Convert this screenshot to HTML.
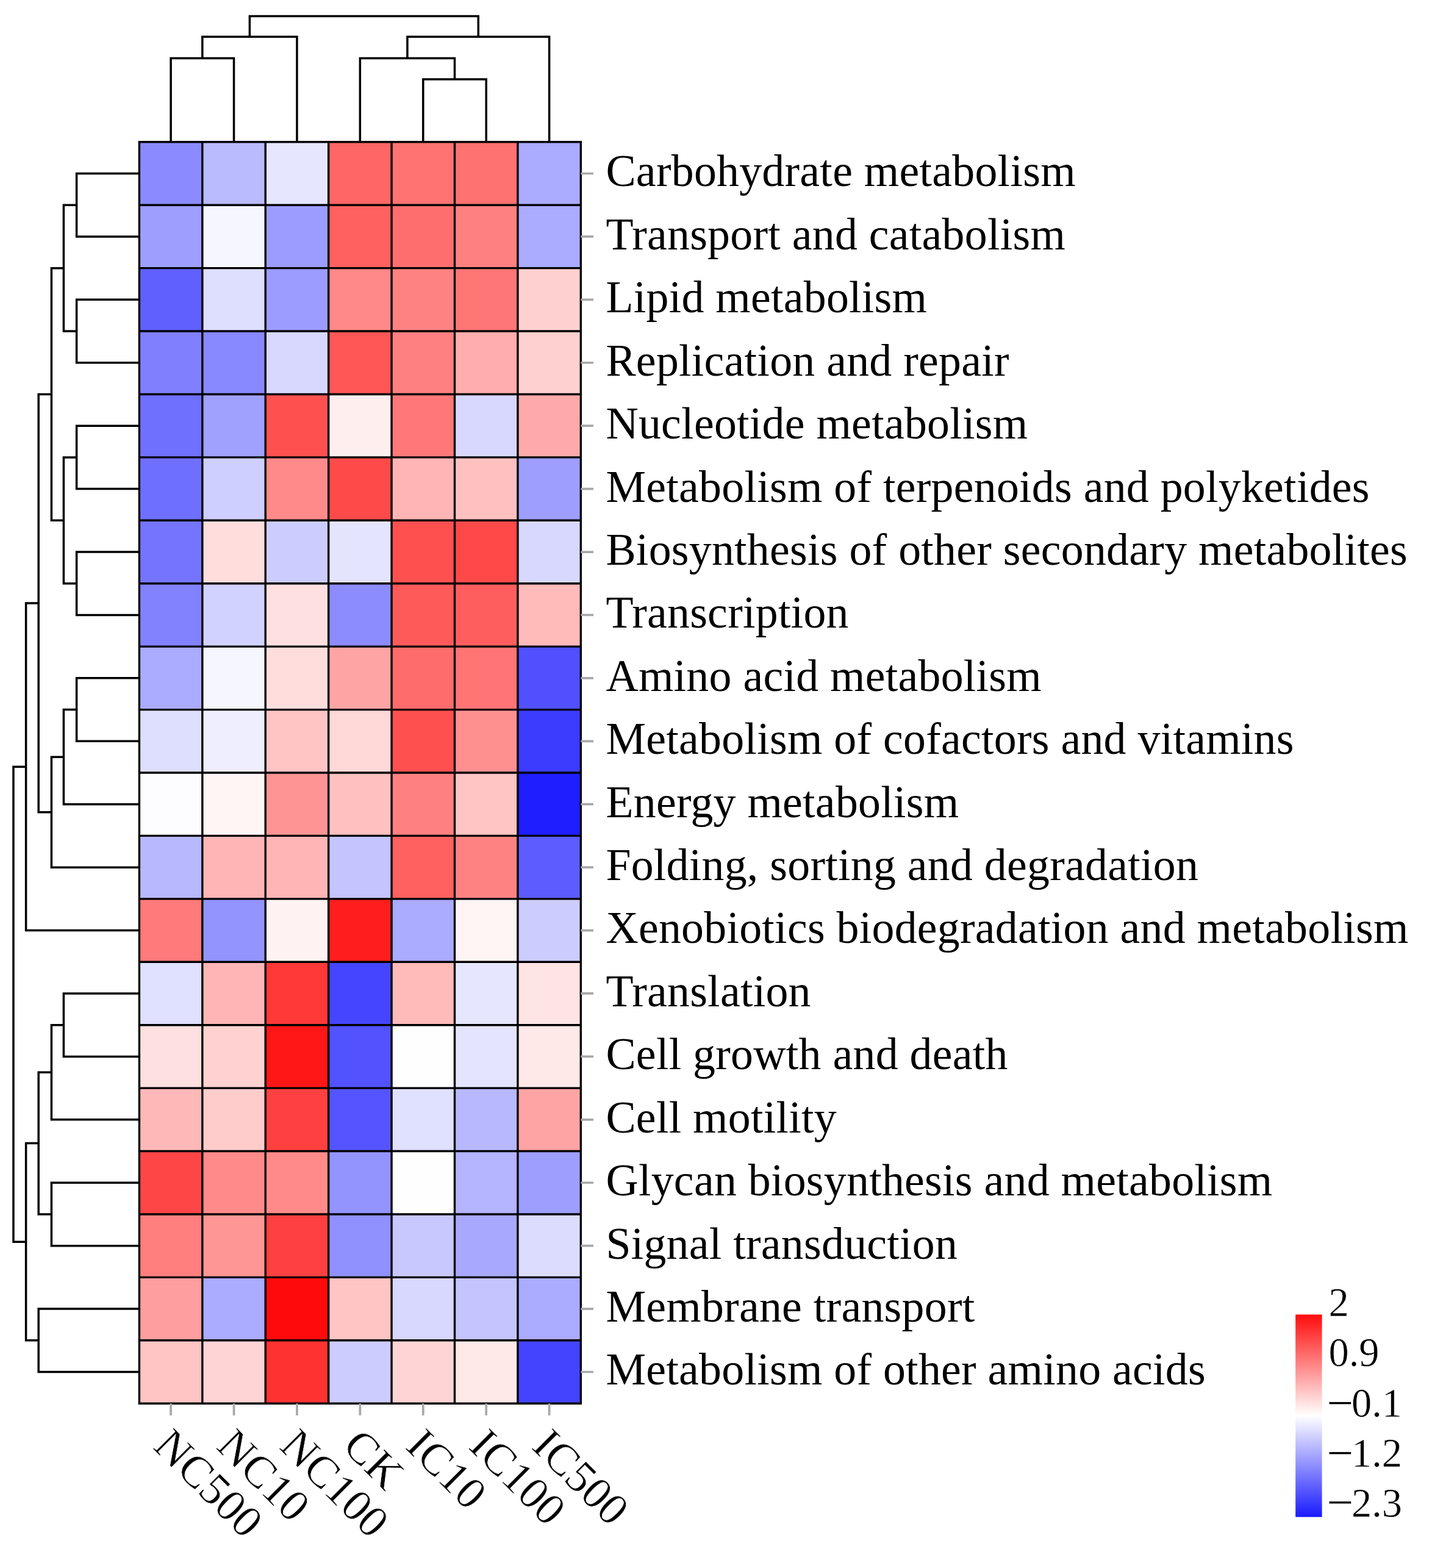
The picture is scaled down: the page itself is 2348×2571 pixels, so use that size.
<!DOCTYPE html>
<html lang="en">
<head>
<meta charset="utf-8">
<title>Clustered heatmap of KEGG pathway abundance</title>
<style>
html,body{margin:0;padding:0;background:#fff;}
body{width:2348px;height:2571px;overflow:hidden;}
svg{display:block;}
.lbl{font-family:"Liberation Serif","DejaVu Serif",serif;font-size:73.8px;letter-spacing:0.26px;fill:#000;}
.leg{font-family:"Liberation Serif","DejaVu Serif",serif;font-size:66.5px;fill:#000;}
.dn{stroke:#000;stroke-width:3.5;fill:none;stroke-linecap:butt;stroke-linejoin:miter;}
.gr{stroke:#000;stroke-width:3.4;fill:none;}
.tk{stroke:#a8a8a8;stroke-width:3.7;fill:none;}
</style>
</head>
<body>
<svg width="2348" height="2571" viewBox="0 0 2348 2571">
<defs><linearGradient id="cb" x1="0" y1="0" x2="0" y2="1"><stop offset="0" stop-color="#ff0c0c"/><stop offset="0.5" stop-color="#ffffff"/><stop offset="1" stop-color="#1a1aff"/></linearGradient></defs>
<rect x="0" y="0" width="2348" height="2571" fill="#ffffff"/>
<g id="cells" shape-rendering="crispEdges">
<rect x="228.4" y="232.8" width="103.42" height="103.42" fill="rgb(139,139,255)"/>
<rect x="331.82" y="232.8" width="103.42" height="103.42" fill="rgb(186,186,255)"/>
<rect x="435.24" y="232.8" width="103.42" height="103.42" fill="rgb(230,230,255)"/>
<rect x="538.66" y="232.8" width="103.42" height="103.42" fill="rgb(255,102,102)"/>
<rect x="642.08" y="232.8" width="103.42" height="103.42" fill="rgb(255,115,115)"/>
<rect x="745.5" y="232.8" width="103.42" height="103.42" fill="rgb(255,114,114)"/>
<rect x="848.92" y="232.8" width="103.42" height="103.42" fill="rgb(171,171,255)"/>
<rect x="228.4" y="336.22" width="103.42" height="103.42" fill="rgb(158,158,255)"/>
<rect x="331.82" y="336.22" width="103.42" height="103.42" fill="rgb(246,246,255)"/>
<rect x="435.24" y="336.22" width="103.42" height="103.42" fill="rgb(156,156,255)"/>
<rect x="538.66" y="336.22" width="103.42" height="103.42" fill="rgb(255,96,96)"/>
<rect x="642.08" y="336.22" width="103.42" height="103.42" fill="rgb(255,110,110)"/>
<rect x="745.5" y="336.22" width="103.42" height="103.42" fill="rgb(255,128,128)"/>
<rect x="848.92" y="336.22" width="103.42" height="103.42" fill="rgb(171,171,255)"/>
<rect x="228.4" y="439.64" width="103.42" height="103.42" fill="rgb(96,96,255)"/>
<rect x="331.82" y="439.64" width="103.42" height="103.42" fill="rgb(222,222,255)"/>
<rect x="435.24" y="439.64" width="103.42" height="103.42" fill="rgb(156,156,255)"/>
<rect x="538.66" y="439.64" width="103.42" height="103.42" fill="rgb(255,136,136)"/>
<rect x="642.08" y="439.64" width="103.42" height="103.42" fill="rgb(255,130,130)"/>
<rect x="745.5" y="439.64" width="103.42" height="103.42" fill="rgb(255,118,118)"/>
<rect x="848.92" y="439.64" width="103.42" height="103.42" fill="rgb(255,208,208)"/>
<rect x="228.4" y="543.06" width="103.42" height="103.42" fill="rgb(128,128,255)"/>
<rect x="331.82" y="543.06" width="103.42" height="103.42" fill="rgb(136,136,255)"/>
<rect x="435.24" y="543.06" width="103.42" height="103.42" fill="rgb(216,216,255)"/>
<rect x="538.66" y="543.06" width="103.42" height="103.42" fill="rgb(255,86,86)"/>
<rect x="642.08" y="543.06" width="103.42" height="103.42" fill="rgb(255,128,128)"/>
<rect x="745.5" y="543.06" width="103.42" height="103.42" fill="rgb(255,173,173)"/>
<rect x="848.92" y="543.06" width="103.42" height="103.42" fill="rgb(255,208,208)"/>
<rect x="228.4" y="646.48" width="103.42" height="103.42" fill="rgb(112,112,255)"/>
<rect x="331.82" y="646.48" width="103.42" height="103.42" fill="rgb(160,160,255)"/>
<rect x="435.24" y="646.48" width="103.42" height="103.42" fill="rgb(255,80,80)"/>
<rect x="538.66" y="646.48" width="103.42" height="103.42" fill="rgb(255,238,238)"/>
<rect x="642.08" y="646.48" width="103.42" height="103.42" fill="rgb(255,120,120)"/>
<rect x="745.5" y="646.48" width="103.42" height="103.42" fill="rgb(216,216,255)"/>
<rect x="848.92" y="646.48" width="103.42" height="103.42" fill="rgb(255,170,170)"/>
<rect x="228.4" y="749.9" width="103.42" height="103.42" fill="rgb(111,111,255)"/>
<rect x="331.82" y="749.9" width="103.42" height="103.42" fill="rgb(207,207,255)"/>
<rect x="435.24" y="749.9" width="103.42" height="103.42" fill="rgb(255,138,138)"/>
<rect x="538.66" y="749.9" width="103.42" height="103.42" fill="rgb(255,74,74)"/>
<rect x="642.08" y="749.9" width="103.42" height="103.42" fill="rgb(255,181,181)"/>
<rect x="745.5" y="749.9" width="103.42" height="103.42" fill="rgb(255,192,192)"/>
<rect x="848.92" y="749.9" width="103.42" height="103.42" fill="rgb(158,158,255)"/>
<rect x="228.4" y="853.32" width="103.42" height="103.42" fill="rgb(116,116,255)"/>
<rect x="331.82" y="853.32" width="103.42" height="103.42" fill="rgb(255,221,221)"/>
<rect x="435.24" y="853.32" width="103.42" height="103.42" fill="rgb(204,204,255)"/>
<rect x="538.66" y="853.32" width="103.42" height="103.42" fill="rgb(228,228,255)"/>
<rect x="642.08" y="853.32" width="103.42" height="103.42" fill="rgb(255,80,80)"/>
<rect x="745.5" y="853.32" width="103.42" height="103.42" fill="rgb(255,72,72)"/>
<rect x="848.92" y="853.32" width="103.42" height="103.42" fill="rgb(216,216,255)"/>
<rect x="228.4" y="956.74" width="103.42" height="103.42" fill="rgb(130,130,255)"/>
<rect x="331.82" y="956.74" width="103.42" height="103.42" fill="rgb(210,210,255)"/>
<rect x="435.24" y="956.74" width="103.42" height="103.42" fill="rgb(255,224,224)"/>
<rect x="538.66" y="956.74" width="103.42" height="103.42" fill="rgb(140,140,255)"/>
<rect x="642.08" y="956.74" width="103.42" height="103.42" fill="rgb(255,90,90)"/>
<rect x="745.5" y="956.74" width="103.42" height="103.42" fill="rgb(255,94,94)"/>
<rect x="848.92" y="956.74" width="103.42" height="103.42" fill="rgb(255,186,186)"/>
<rect x="228.4" y="1060.16" width="103.42" height="103.42" fill="rgb(171,171,255)"/>
<rect x="331.82" y="1060.16" width="103.42" height="103.42" fill="rgb(246,246,255)"/>
<rect x="435.24" y="1060.16" width="103.42" height="103.42" fill="rgb(255,221,221)"/>
<rect x="538.66" y="1060.16" width="103.42" height="103.42" fill="rgb(255,164,164)"/>
<rect x="642.08" y="1060.16" width="103.42" height="103.42" fill="rgb(255,108,108)"/>
<rect x="745.5" y="1060.16" width="103.42" height="103.42" fill="rgb(255,116,116)"/>
<rect x="848.92" y="1060.16" width="103.42" height="103.42" fill="rgb(80,80,255)"/>
<rect x="228.4" y="1163.58" width="103.42" height="103.42" fill="rgb(222,222,255)"/>
<rect x="331.82" y="1163.58" width="103.42" height="103.42" fill="rgb(238,238,255)"/>
<rect x="435.24" y="1163.58" width="103.42" height="103.42" fill="rgb(255,196,196)"/>
<rect x="538.66" y="1163.58" width="103.42" height="103.42" fill="rgb(255,216,216)"/>
<rect x="642.08" y="1163.58" width="103.42" height="103.42" fill="rgb(255,80,80)"/>
<rect x="745.5" y="1163.58" width="103.42" height="103.42" fill="rgb(255,144,144)"/>
<rect x="848.92" y="1163.58" width="103.42" height="103.42" fill="rgb(60,60,255)"/>
<rect x="228.4" y="1267" width="103.42" height="103.42" fill="rgb(253,253,255)"/>
<rect x="331.82" y="1267" width="103.42" height="103.42" fill="rgb(255,245,245)"/>
<rect x="435.24" y="1267" width="103.42" height="103.42" fill="rgb(255,148,148)"/>
<rect x="538.66" y="1267" width="103.42" height="103.42" fill="rgb(255,192,192)"/>
<rect x="642.08" y="1267" width="103.42" height="103.42" fill="rgb(255,128,128)"/>
<rect x="745.5" y="1267" width="103.42" height="103.42" fill="rgb(255,196,196)"/>
<rect x="848.92" y="1267" width="103.42" height="103.42" fill="rgb(30,30,255)"/>
<rect x="228.4" y="1370.42" width="103.42" height="103.42" fill="rgb(184,184,255)"/>
<rect x="331.82" y="1370.42" width="103.42" height="103.42" fill="rgb(255,181,181)"/>
<rect x="435.24" y="1370.42" width="103.42" height="103.42" fill="rgb(255,181,181)"/>
<rect x="538.66" y="1370.42" width="103.42" height="103.42" fill="rgb(196,196,255)"/>
<rect x="642.08" y="1370.42" width="103.42" height="103.42" fill="rgb(255,96,96)"/>
<rect x="745.5" y="1370.42" width="103.42" height="103.42" fill="rgb(255,130,130)"/>
<rect x="848.92" y="1370.42" width="103.42" height="103.42" fill="rgb(92,92,255)"/>
<rect x="228.4" y="1473.84" width="103.42" height="103.42" fill="rgb(255,122,122)"/>
<rect x="331.82" y="1473.84" width="103.42" height="103.42" fill="rgb(148,148,255)"/>
<rect x="435.24" y="1473.84" width="103.42" height="103.42" fill="rgb(255,242,242)"/>
<rect x="538.66" y="1473.84" width="103.42" height="103.42" fill="rgb(255,30,30)"/>
<rect x="642.08" y="1473.84" width="103.42" height="103.42" fill="rgb(171,171,255)"/>
<rect x="745.5" y="1473.84" width="103.42" height="103.42" fill="rgb(255,245,245)"/>
<rect x="848.92" y="1473.84" width="103.42" height="103.42" fill="rgb(204,204,255)"/>
<rect x="228.4" y="1577.26" width="103.42" height="103.42" fill="rgb(224,224,255)"/>
<rect x="331.82" y="1577.26" width="103.42" height="103.42" fill="rgb(255,181,181)"/>
<rect x="435.24" y="1577.26" width="103.42" height="103.42" fill="rgb(255,56,56)"/>
<rect x="538.66" y="1577.26" width="103.42" height="103.42" fill="rgb(69,69,255)"/>
<rect x="642.08" y="1577.26" width="103.42" height="103.42" fill="rgb(255,186,186)"/>
<rect x="745.5" y="1577.26" width="103.42" height="103.42" fill="rgb(230,230,255)"/>
<rect x="848.92" y="1577.26" width="103.42" height="103.42" fill="rgb(255,228,228)"/>
<rect x="228.4" y="1680.68" width="103.42" height="103.42" fill="rgb(255,224,224)"/>
<rect x="331.82" y="1680.68" width="103.42" height="103.42" fill="rgb(255,210,210)"/>
<rect x="435.24" y="1680.68" width="103.42" height="103.42" fill="rgb(255,22,22)"/>
<rect x="538.66" y="1680.68" width="103.42" height="103.42" fill="rgb(82,82,255)"/>
<rect x="642.08" y="1680.68" width="103.42" height="103.42" fill="rgb(255,254,254)"/>
<rect x="745.5" y="1680.68" width="103.42" height="103.42" fill="rgb(228,228,255)"/>
<rect x="848.92" y="1680.68" width="103.42" height="103.42" fill="rgb(255,232,232)"/>
<rect x="228.4" y="1784.1" width="103.42" height="103.42" fill="rgb(255,184,184)"/>
<rect x="331.82" y="1784.1" width="103.42" height="103.42" fill="rgb(255,204,204)"/>
<rect x="435.24" y="1784.1" width="103.42" height="103.42" fill="rgb(255,64,64)"/>
<rect x="538.66" y="1784.1" width="103.42" height="103.42" fill="rgb(85,85,255)"/>
<rect x="642.08" y="1784.1" width="103.42" height="103.42" fill="rgb(224,224,255)"/>
<rect x="745.5" y="1784.1" width="103.42" height="103.42" fill="rgb(184,184,255)"/>
<rect x="848.92" y="1784.1" width="103.42" height="103.42" fill="rgb(255,164,164)"/>
<rect x="228.4" y="1887.52" width="103.42" height="103.42" fill="rgb(255,70,70)"/>
<rect x="331.82" y="1887.52" width="103.42" height="103.42" fill="rgb(255,138,138)"/>
<rect x="435.24" y="1887.52" width="103.42" height="103.42" fill="rgb(255,138,138)"/>
<rect x="538.66" y="1887.52" width="103.42" height="103.42" fill="rgb(148,148,255)"/>
<rect x="642.08" y="1887.52" width="103.42" height="103.42" fill="rgb(255,254,254)"/>
<rect x="745.5" y="1887.52" width="103.42" height="103.42" fill="rgb(180,180,255)"/>
<rect x="848.92" y="1887.52" width="103.42" height="103.42" fill="rgb(158,158,255)"/>
<rect x="228.4" y="1990.94" width="103.42" height="103.42" fill="rgb(255,126,126)"/>
<rect x="331.82" y="1990.94" width="103.42" height="103.42" fill="rgb(255,150,150)"/>
<rect x="435.24" y="1990.94" width="103.42" height="103.42" fill="rgb(255,64,64)"/>
<rect x="538.66" y="1990.94" width="103.42" height="103.42" fill="rgb(144,144,255)"/>
<rect x="642.08" y="1990.94" width="103.42" height="103.42" fill="rgb(200,200,255)"/>
<rect x="745.5" y="1990.94" width="103.42" height="103.42" fill="rgb(168,168,255)"/>
<rect x="848.92" y="1990.94" width="103.42" height="103.42" fill="rgb(220,220,255)"/>
<rect x="228.4" y="2094.36" width="103.42" height="103.42" fill="rgb(255,158,158)"/>
<rect x="331.82" y="2094.36" width="103.42" height="103.42" fill="rgb(171,171,255)"/>
<rect x="435.24" y="2094.36" width="103.42" height="103.42" fill="rgb(255,10,10)"/>
<rect x="538.66" y="2094.36" width="103.42" height="103.42" fill="rgb(255,196,196)"/>
<rect x="642.08" y="2094.36" width="103.42" height="103.42" fill="rgb(216,216,255)"/>
<rect x="745.5" y="2094.36" width="103.42" height="103.42" fill="rgb(196,196,255)"/>
<rect x="848.92" y="2094.36" width="103.42" height="103.42" fill="rgb(171,171,255)"/>
<rect x="228.4" y="2197.78" width="103.42" height="103.42" fill="rgb(255,196,196)"/>
<rect x="331.82" y="2197.78" width="103.42" height="103.42" fill="rgb(255,212,212)"/>
<rect x="435.24" y="2197.78" width="103.42" height="103.42" fill="rgb(255,50,50)"/>
<rect x="538.66" y="2197.78" width="103.42" height="103.42" fill="rgb(204,204,255)"/>
<rect x="642.08" y="2197.78" width="103.42" height="103.42" fill="rgb(255,212,212)"/>
<rect x="745.5" y="2197.78" width="103.42" height="103.42" fill="rgb(255,232,232)"/>
<rect x="848.92" y="2197.78" width="103.42" height="103.42" fill="rgb(68,68,255)"/>
</g>
<path id="grid" class="gr" d="M226.7 232.8H954.04M226.7 336.22H954.04M226.7 439.64H954.04M226.7 543.06H954.04M226.7 646.48H954.04M226.7 749.9H954.04M226.7 853.32H954.04M226.7 956.74H954.04M226.7 1060.16H954.04M226.7 1163.58H954.04M226.7 1267H954.04M226.7 1370.42H954.04M226.7 1473.84H954.04M226.7 1577.26H954.04M226.7 1680.68H954.04M226.7 1784.1H954.04M226.7 1887.52H954.04M226.7 1990.94H954.04M226.7 2094.36H954.04M226.7 2197.78H954.04M226.7 2301.2H954.04M228.4 232.8V2301.2M331.82 232.8V2301.2M435.24 232.8V2301.2M538.66 232.8V2301.2M642.08 232.8V2301.2M745.5 232.8V2301.2M848.92 232.8V2301.2M952.34 232.8V2301.2"/>
<g id="ticks" class="tk">
<path d="M952.34 284.51H973M952.34 387.93H973M952.34 491.35H973M952.34 594.77H973M952.34 698.19H973M952.34 801.61H973M952.34 905.03H973M952.34 1008.45H973M952.34 1111.87H973M952.34 1215.29H973M952.34 1318.71H973M952.34 1422.13H973M952.34 1525.55H973M952.34 1628.97H973M952.34 1732.39H973M952.34 1835.81H973M952.34 1939.23H973M952.34 2042.65H973M952.34 2146.07H973M952.34 2249.49H973M280.11 2301.2V2320.7M383.53 2301.2V2320.7M486.95 2301.2V2320.7M590.37 2301.2V2320.7M693.79 2301.2V2320.7M797.21 2301.2V2320.7M900.63 2301.2V2320.7"/>
</g>
<path id="coltree" class="dn" d="M280.11 232.8V95.6H383.53V232.8M331.82 95.6V60.2H486.95V232.8M693.79 232.8V130H797.21V232.8M590.37 232.8V95.6H745.5V130M667.93 95.6V60.2H900.63V232.8M409.38 60.2V26.5H784.28V60.2"/>
<path id="rowtree" class="dn" d="M228.4 284.51H125.6V387.93H228.4M228.4 491.35H125.6V594.77H228.4M125.6 336.22H104.4V543.06H125.6M228.4 698.19H125.6V801.61H228.4M228.4 905.03H125.6V1008.45H228.4M125.6 749.9H104.4V956.74H125.6M104.4 439.64H84.4V853.32H104.4M228.4 1111.87H125.6V1215.29H228.4M125.6 1163.58H104.4V1318.71H228.4M104.4 1241.14H84.4V1422.13H228.4M84.4 646.48H63.2V1331.64H84.4M63.2 989.06H42.6V1525.55H228.4M228.4 1628.97H104.4V1732.39H228.4M104.4 1680.68H84.4V1835.81H228.4M228.4 1939.23H84.4V2042.65H228.4M84.4 1758.24H63.2V1990.94H84.4M228.4 2146.07H63.2V2249.49H228.4M63.2 1874.59H42.6V2197.78H63.2M42.6 1257.3H22V2036.19H42.6"/>
<g id="rowlabels" class="lbl">
<text x="993.4" y="305.41">Carbohydrate metabolism</text>
<text x="993.4" y="408.83">Transport and catabolism</text>
<text x="993.4" y="512.25">Lipid metabolism</text>
<text x="993.4" y="615.67">Replication and repair</text>
<text x="993.4" y="719.09">Nucleotide metabolism</text>
<text x="993.4" y="822.51">Metabolism of terpenoids and polyketides</text>
<text x="993.4" y="925.93">Biosynthesis of other secondary metabolites</text>
<text x="993.4" y="1029.35">Transcription</text>
<text x="993.4" y="1132.77">Amino acid metabolism</text>
<text x="993.4" y="1236.19">Metabolism of cofactors and vitamins</text>
<text x="993.4" y="1339.61">Energy metabolism</text>
<text x="993.4" y="1443.03">Folding, sorting and degradation</text>
<text x="993.4" y="1546.45">Xenobiotics biodegradation and metabolism</text>
<text x="993.4" y="1649.87">Translation</text>
<text x="993.4" y="1753.29">Cell growth and death</text>
<text x="993.4" y="1856.71">Cell motility</text>
<text x="993.4" y="1960.13">Glycan biosynthesis and metabolism</text>
<text x="993.4" y="2063.55">Signal transduction</text>
<text x="993.4" y="2166.97">Membrane transport</text>
<text x="993.4" y="2270.39">Metabolism of other amino acids</text>
</g>
<g id="collabels" class="lbl" stroke="#ffffff" stroke-width="0.6">
<text transform="translate(249.11 2373.7) rotate(45)" x="0" y="0">NC500</text>
<text transform="translate(352.53 2373.7) rotate(45)" x="0" y="0">NC10</text>
<text transform="translate(455.95 2373.7) rotate(45)" x="0" y="0">NC100</text>
<text transform="translate(559.37 2373.7) rotate(45)" x="0" y="0">CK</text>
<text transform="translate(662.79 2373.7) rotate(45)" x="0" y="0">IC10</text>
<text transform="translate(766.21 2373.7) rotate(45)" x="0" y="0">IC100</text>
<text transform="translate(869.63 2373.7) rotate(45)" x="0" y="0">IC500</text>
</g>
<rect id="colorbar" x="2124.2" y="2155.4" width="43.4" height="332" fill="url(#cb)"/>
<g id="legend" class="leg" stroke="#ffffff" stroke-width="0.5">
<text transform="translate(2178.5 2157.8) scale(1 1.02)" x="0" y="0">2</text>
<text transform="translate(2178.5 2239.6) scale(1 1.02)" x="0" y="0">0.9</text>
<text transform="translate(2178.5 2323.3) scale(1 1.02)" x="0" y="0"><tspan x="-3.3" dy="3.3" font-size="78">−</tspan><tspan x="37.5" dy="-3.3">0.1</tspan></text>
<text transform="translate(2178.5 2405.4) scale(1 1.02)" x="0" y="0"><tspan x="-3.3" dy="3.3" font-size="78">−</tspan><tspan x="37.5" dy="-3.3">1.2</tspan></text>
<text transform="translate(2178.5 2487) scale(1 1.02)" x="0" y="0"><tspan x="-3.3" dy="3.3" font-size="78">−</tspan><tspan x="37.5" dy="-3.3">2.3</tspan></text>
</g>
</svg>
</body>
</html>
